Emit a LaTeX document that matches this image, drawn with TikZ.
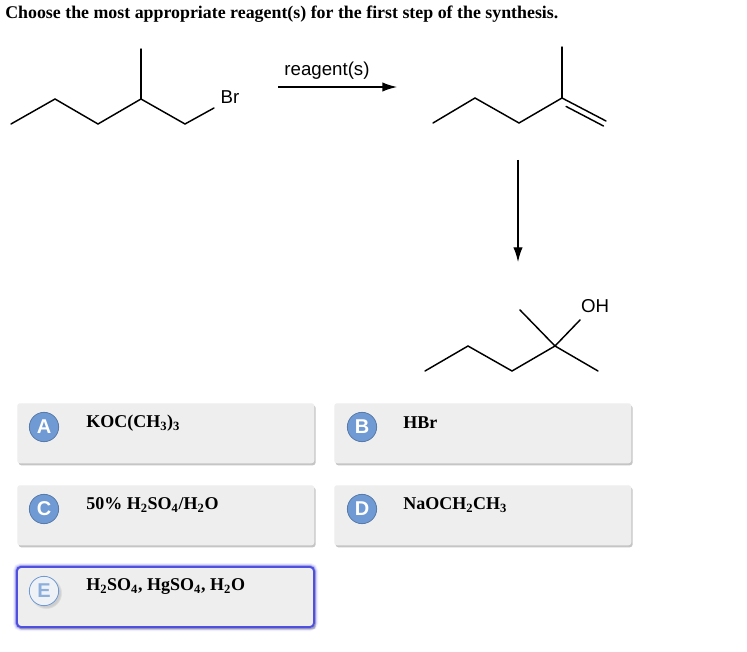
\documentclass[tikz,border=0pt]{standalone}
\usepackage{fontspec}
\setmainfont{Liberation Serif}
\newfontfamily\arial{Liberation Sans}
\usetikzlibrary{arrows.meta,shadows,calc}
\definecolor{boxfill}{HTML}{EEEEEE}
\definecolor{circ}{HTML}{6F9AD3}
\definecolor{glow}{HTML}{5050E0}
\newcommand{\sbs}[1]{\textsubscript{#1}}
\tikzset{
 bond/.style={line width=1.1pt,line cap=round},
 optbox/.style={draw=none,fill=boxfill,rounded corners=2pt,minimum width=297*0.75pt,minimum height=60*0.75pt,drop shadow={shadow xshift=1pt,shadow yshift=-1.5pt,opacity=0.45}},
 letter/.style={circle,fill=circ,draw=circ!80!black,line width=0.6pt,text=white,minimum size=22pt,inner sep=0pt,font=\arial\bfseries\fontsize{15}{15}\selectfont},
 opttext/.style={anchor=west,inner sep=0pt,font=\bfseries\fontsize{13.5}{15}\selectfont},
 rx/.style={-{Latex[length=11pt,width=7pt]},line width=1pt},
 lab/.style={font=\arial\fontsize{14}{14}\selectfont}
}
\begin{document}
\begin{tikzpicture}[x=0.75pt,y=-0.75pt]
\useasboundingbox[fill=white] (0,0) rectangle (747,652);
\node[anchor=west,inner sep=0pt,font=\bfseries\fontsize{13.4}{15}\selectfont] (title) at (5,14) {Choose the most appropriate reagent(s) for the first step of the synthesis.};
% molecule 1
\coordinate (a1) at (11,124); \coordinate (a2) at (55,99); \coordinate (a3) at (98,124);
\coordinate (a4) at (141,99); \coordinate (a5) at (141,49); \coordinate (a6) at (185,124);
\coordinate (a7) at (214,108);
\draw[bond] (a1)--(a2)--(a3)--(a4)--(a6)--(a7); \draw[bond] (a4)--(a5);
\node[lab] (br) at (230,97) {Br};
% arrow
\coordinate (r1) at (278,87); \coordinate (r2) at (397,87);
\draw[rx] (r1)--(r2);
\node[lab] (reag) at (327,71) {reagent(s)};
% molecule 2
\coordinate (b1) at (433,123); \coordinate (b2) at (475,98); \coordinate (b3) at (519,123);
\coordinate (b4) at (562,98); \coordinate (b5) at (562,47); \coordinate (b6) at (606,121);
\draw[bond] (b1)--(b2)--(b3)--(b4)--(b6); \draw[bond] (b4)--(b5);
\draw[bond] ($(b4)!0.15!(b6)+(-2.5,5)$) -- ($(b6)+(-2.5,5)$);
% down arrow
\coordinate (d1) at (518,160); \coordinate (d2) at (518,262);
\draw[rx] (d1)--(d2);
% molecule 3
\coordinate (c1) at (425,371); \coordinate (c2) at (468,346); \coordinate (c3) at (512,371);
\coordinate (c4) at (555,346); \coordinate (c5) at (520,310); \coordinate (c6) at (580,320);
\coordinate (c7) at (598,371);
\draw[bond] (c1)--(c2)--(c3)--(c4)--(c5); \draw[bond] (c4)--(c6); \draw[bond] (c4)--(c7);
\node[lab] (oh) at (595,306) {OH};
% options
\node[optbox,anchor=north west] (boxA) at (17,403) {};
\node[optbox,anchor=north west] (boxB) at (334,403) {};
\node[optbox,anchor=north west] (boxC) at (17,485) {};
\node[optbox,anchor=north west] (boxD) at (334,485) {};
\foreach \w/\o in {6/0.08,4.5/0.15,3/0.3,1.6/0.9}
  \draw[glow,line width=\w pt,opacity=\o,rounded corners=3pt] (17,567) rectangle (314,627);
\node[optbox,anchor=north west,drop shadow={opacity=0}] (boxE) at (17,567) {};
\draw[glow,line width=1.4pt,rounded corners=3pt] (17,567) rectangle (314,627);
\node[letter] (lA) at (44,427) {A};
\node[letter] (lB) at (362,427) {B};
\node[letter] (lC) at (44,509) {C};
\node[letter] (lD) at (362,509) {D};
\node[letter,fill=boxfill!70!circ!30,draw=circ,text=circ!80,circular drop shadow={opacity=0.3}] (lE) at (44,591) {E};
\node[opttext] (tA) at (86,423) {KOC(CH\sbs{3})\sbs{3}};
\node[opttext] (tB) at (403,423) {HBr};
\node[opttext] (tC) at (86,505) {50\% H\sbs{2}SO\sbs{4}/H\sbs{2}O};
\node[opttext] (tD) at (403,505) {NaOCH\sbs{2}CH\sbs{3}};
\node[opttext] (tE) at (86,587) {H\sbs{2}SO\sbs{4}, HgSO\sbs{4}, H\sbs{2}O};
\end{tikzpicture}
\end{document}
